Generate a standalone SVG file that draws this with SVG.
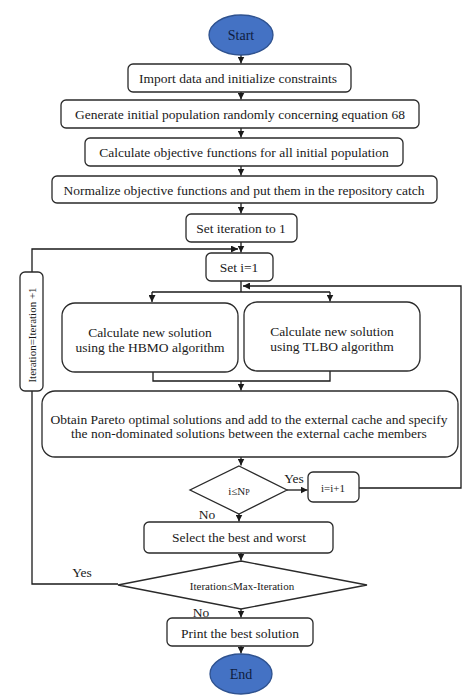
<svg xmlns="http://www.w3.org/2000/svg" width="474" height="697" viewBox="0 0 474 697">
<defs>
<marker id="ah" viewBox="0 0 8 8" refX="8" refY="4" markerWidth="7" markerHeight="7" markerUnits="userSpaceOnUse" orient="auto">
<path d="M0,0 L8,4 L0,8 Z" fill="#1a1a1a"/>
</marker>
<style>
.b{fill:#fff;stroke:#2a2a2a;stroke-width:1.3}
.t{font-family:"Liberation Serif","Times New Roman",serif;font-size:13.5px;fill:#1a1a1a;text-anchor:middle;dominant-baseline:central}
.s{font-size:11px}
.e{fill:#4472C4;stroke:#2F528F;stroke-width:1.3}
.et{fill:#0f1d40;font-size:14px}
.c{fill:none;stroke:#1a1a1a;stroke-width:1.3}
</style>
</defs>
<rect width="474" height="697" fill="#fff"/>
<g id="connectors">
<path class="c" d="M241,55 V63.5" marker-end="url(#ah)"/>
<path class="c" d="M241,92 V99.5" marker-end="url(#ah)"/>
<path class="c" d="M241,128 V137.5" marker-end="url(#ah)"/>
<path class="c" d="M241,166 V175.5" marker-end="url(#ah)"/>
<path class="c" d="M241,203 V213.5" marker-end="url(#ah)"/>
<path class="c" d="M241,242 V252.5" marker-end="url(#ah)"/>
<path class="c" d="M32,272 V249 H238" marker-end="url(#ah)"/>
<path class="c" d="M241,281 V292"/>
<path class="c" d="M152,292 H330"/>
<path class="c" d="M152,292 V302" marker-end="url(#ah)"/>
<path class="c" d="M330,292 V301.5" marker-end="url(#ah)"/>
<path class="c" d="M359,488 H461 V286 H243" marker-end="url(#ah)"/>
<path class="c" d="M153,372 V381 H330 V371"/>
<path class="c" d="M241,381 V390.5" marker-end="url(#ah)"/>
<path class="c" d="M241,457 V465.5" marker-end="url(#ah)"/>
<path class="c" d="M287,490 H307.5" marker-end="url(#ah)"/>
<path class="c" d="M239,514 V521.5" marker-end="url(#ah)"/>
<path class="c" d="M241,553 V560.5" marker-end="url(#ah)"/>
<path class="c" d="M118,584 H32 V391"/>
<path class="c" d="M241,609 V617.5" marker-end="url(#ah)"/>
<path class="c" d="M241,646 V653.5" marker-end="url(#ah)"/>
</g>
<g id="start"><ellipse class="e" cx="241" cy="35" rx="32" ry="20"/><text class="t et" x="241" y="35">Start</text></g>
<g id="import"><rect class="b" x="128" y="64" width="223" height="28" rx="5"/><text class="t" x="238" y="78">Import data and initialize constraints</text></g>
<g id="generate"><rect class="b" x="61" y="100" width="358" height="28" rx="5"/><text class="t" x="240" y="114">Generate initial population randomly concerning equation 68</text></g>
<g id="calculate"><rect class="b" x="85" y="138" width="318" height="28" rx="5"/><text class="t" x="244" y="152">Calculate objective functions for all initial population</text></g>
<g id="normalize"><rect class="b" x="52" y="176" width="385" height="27" rx="5"/><text class="t" x="244" y="190">Normalize objective functions and put them in the repository catch</text></g>
<g id="setiter"><rect class="b" x="186" y="214" width="111" height="28" rx="5"/><text class="t" x="241" y="228">Set iteration to 1</text></g>
<g id="seti"><rect class="b" x="206" y="253" width="67" height="28" rx="5"/><text class="t" x="239" y="267">Set i=1</text></g>
<g id="iterinc"><rect class="b" x="20" y="272" width="23" height="119" rx="5"/><text class="t s" transform="translate(32,335) rotate(-90)" x="0" y="0">Iteration=Iteration +1</text></g>
<g id="hbmo"><rect class="b" x="62" y="303" width="176" height="69" rx="13"/><text class="t" x="150" y="332">Calculate new solution</text><text class="t" x="150" y="347">using the HBMO algorithm</text></g>
<g id="tlbo"><rect class="b" x="244" y="302" width="176" height="69" rx="13"/><text class="t" x="332" y="331">Calculate new solution</text><text class="t" x="332" y="346">using TLBO algorithm</text></g>
<g id="pareto"><rect class="b" x="42" y="391" width="416" height="66" rx="13"/><text class="t" x="249" y="419">Obtain Pareto optimal solutions and add to the external cache and specify</text><text class="t" x="249" y="433">the non-dominated solutions between the external cache members</text></g>
<g id="cond1"><polygon class="b" points="239,466 287,490 239,514 190,490"/><text class="t s" x="239" y="494.5" style="dominant-baseline:auto">i≤N<tspan font-size="8">P</tspan></text></g>
<text class="t" x="294" y="478">Yes</text>
<text class="t" x="207" y="514">No</text>
<g id="inc"><rect class="b" x="308" y="472" width="51" height="30" rx="5"/><text class="t s" x="333" y="488">i=i+1</text></g>
<g id="select"><rect class="b" x="144" y="522" width="189" height="31" rx="5"/><text class="t" x="239" y="537">Select the best and worst</text></g>
<g id="cond2"><polygon class="b" points="241,561 367,585 241,609 118,585"/><text class="t s" x="242" y="586">Iteration≤Max-Iteration</text></g>
<text class="t" x="82" y="572">Yes</text>
<text class="t" x="201" y="612">No</text>
<g id="print"><rect class="b" x="167" y="618" width="146" height="28" rx="5"/><text class="t" x="240" y="633">Print the best solution</text></g>
<g id="end"><ellipse class="e" cx="241" cy="674" rx="31" ry="20"/><text class="t et" x="241" y="674">End</text></g>
</svg>
